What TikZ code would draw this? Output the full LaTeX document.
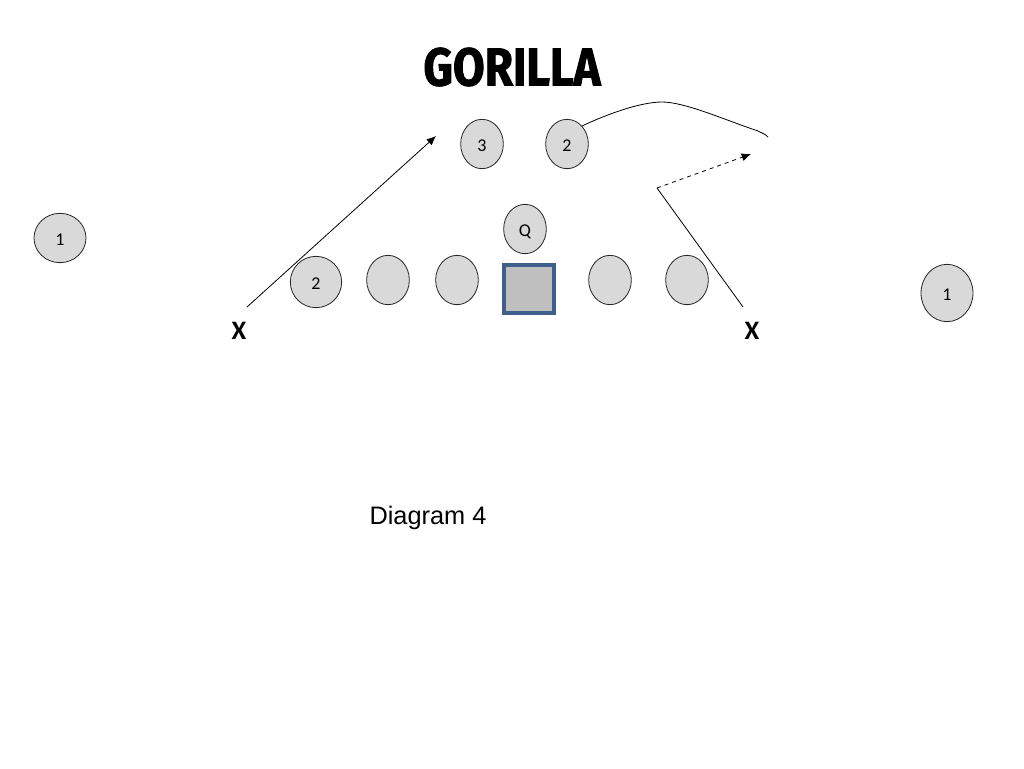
\documentclass[tikz,border=0pt]{standalone}
\usepackage{fontspec}
\setmainfont{Carlito}
\newfontfamily\titlefont[BoldFeatures={FakeBold=1.6,FakeStretch=0.86}]{Fira Sans}
\newfontfamily\captionfont{Liberation Sans}
\usetikzlibrary{arrows.meta,shapes.geometric}

\begin{document}
\begin{tikzpicture}[
  x=0.75pt,
  y=-0.75pt,
  player/.style = {shape=ellipse, draw=black!85, fill=black!15, line width=0.6pt, inner sep=0, text height=10.8pt, text depth=0pt, font=\fontsize{13.5}{15}\selectfont},
  route/.style = {draw=black, line width=0.6pt},
  tip/.style = {-{Latex[length=7pt,width=6pt]}}
]
  \useasboundingbox (0,0) rectangle (1024,768);
  \node[font=\titlefont\bfseries\fontsize{40}{44}\selectfont, inner sep=0] (title) at (512,67) {GORILLA};
  \node[player, minimum width=39pt, minimum height=37pt] (wideL) at (60,238) {1};
  \node[player, minimum width=39pt, minimum height=43pt] (wideR) at (947,293) {1};
  \node[player, minimum width=32pt, minimum height=37pt] (back3) at (482,144) {3};
  \node[player, minimum width=32pt, minimum height=37pt] (back2) at (567,144) {2};
  \node[player, minimum width=32pt, minimum height=37pt] (qb) at (525,229) {Q};
  \node[player, minimum width=38.5pt, minimum height=38.5pt] (guard2) at (316,282) {2};
  \node[player, minimum width=32pt, minimum height=37pt] (lineA) at (388,280) {};
  \node[player, minimum width=32pt, minimum height=37pt] (lineB) at (457,280) {};
  \node[player, minimum width=32pt, minimum height=37pt] (lineC) at (610,280) {};
  \node[player, minimum width=32pt, minimum height=37pt] (lineD) at (687,280) {};
  \node[shape=rectangle, draw={rgb,255:red,65;green,95;blue,140}, fill=black!25, line width=2.4pt, minimum width=37.5pt, minimum height=36pt, inner sep=0] (center) at (529,289) {};
  \node[font=\bfseries\fontsize{20}{22}\selectfont, inner sep=0] (xL) at (239,331) {X};
  \node[font=\bfseries\fontsize{20}{22}\selectfont, inner sep=0] (xR) at (752,331) {X};
  \node[font=\captionfont\fontsize{19}{21}\selectfont, inner sep=0] (caption) at (428,518) {Diagram 4};

  \coordinate (rushL) at (247,307);
  \coordinate (rushLend) at (436,136);
  \coordinate (rushR) at (743,307);
  \coordinate (bend) at (657,188);
  \coordinate (dropend) at (751,154);
  \coordinate (curveend) at (768,137);

  \draw[route, tip] (rushL) -- (rushLend);
  \draw[route] (rushR) -- (bend);
  \draw[route, dashed, tip] (bend) -- (dropend);
  \draw[route] (back2.50) .. controls (605,115) and (640,102) .. (662,102)
    .. controls (685,102) and (725,120) .. (758,131) .. controls (762,133) and (765,134) .. (curveend);
\end{tikzpicture}
\end{document}
